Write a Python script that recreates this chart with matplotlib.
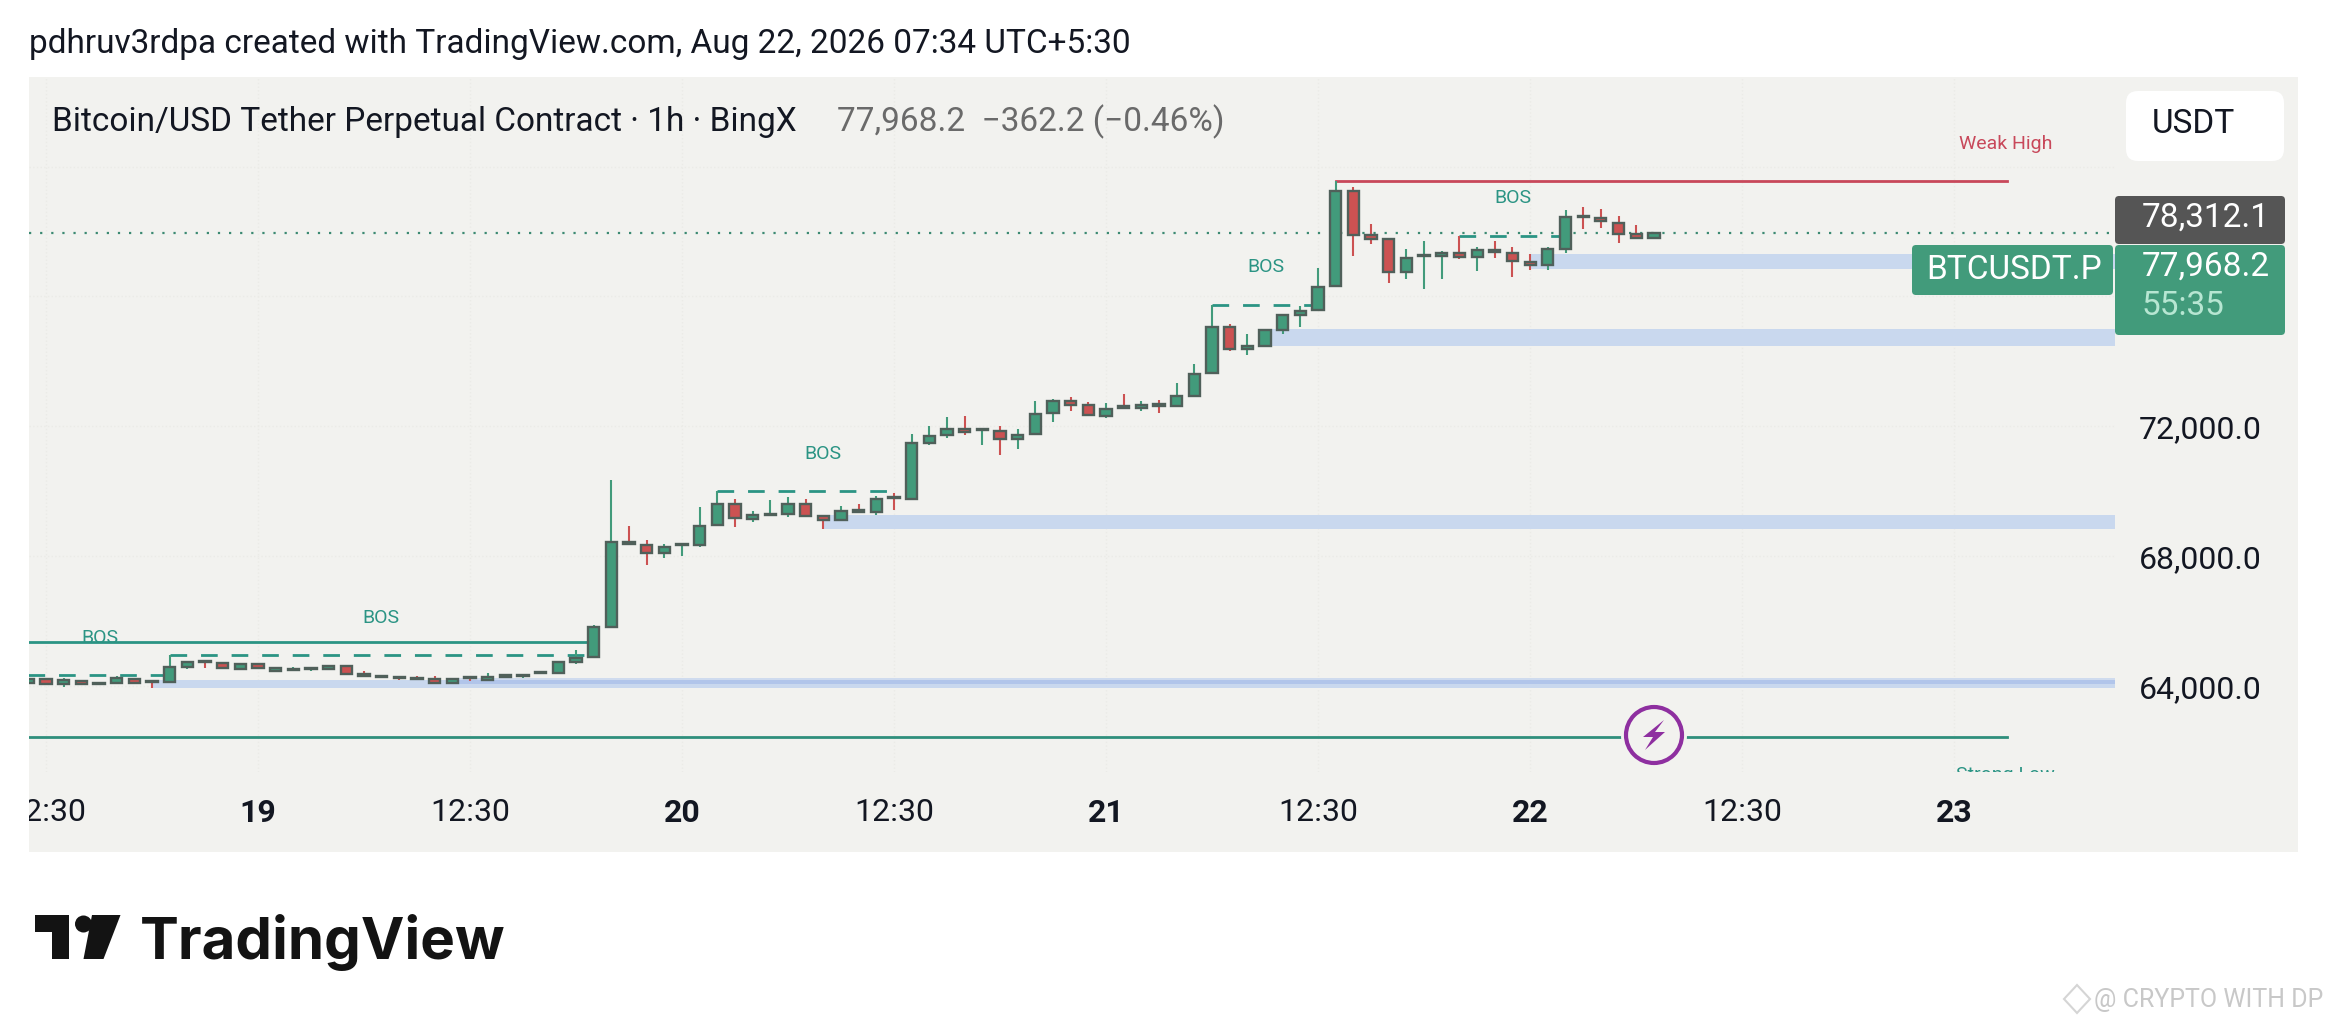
#! /bin/python3

import matplotlib
matplotlib.use('Agg')
import matplotlib.pyplot as plt
from matplotlib.patches import Rectangle, FancyBboxPatch, Circle, Polygon
from matplotlib.transforms import Affine2D, Bbox, TransformedBbox

plt.rcParams['font.family'] = ['Roboto', 'DejaVu Sans']

WIDTH, HEIGHT = 2326, 1025

# candle index 0 is the "19" tick, one candle per hour
first_index = -13
opens = [64118, 64220, 64087, 64179, 64087, 64097, 64241, 64159, 64128, 64610,
         64774, 64733, 64548, 64692, 64466, 64497, 64528, 64528, 64620, 64384,
         64333, 64292, 64261, 64231, 64118, 64282, 64190, 64302, 64333, 64405,
         64405, 64764, 64897,
         65820, 68456, 68364, 68097, 68343, 68343, 68959, 69626, 69164, 69267,
         69318, 69626, 69236, 69113, 69420, 69359, 69820, 69759, 71503, 71728,
         71933, 71882, 71872,
         71606, 71760, 72406, 72775, 72652, 72334, 72621, 72580, 72683, 72621,
         72949, 73636, 75072, 74374, 74467, 74959, 75421, 75574, 76313, 79257,
         77882, 77780, 76744, 77236, 77236, 77349, 77205, 77441, 77349, 77072,
         76959, 77462, 78487, 78426, 78272, 77913, 77800]
closes = [64220, 64087, 64200, 64066, 64118, 64251, 64118, 64128, 64610, 64743,
          64743, 64559, 64692, 64559, 64559, 64528, 64559, 64620, 64374, 64313,
          64302, 64251, 64220, 64118, 64241, 64251, 64292, 64343, 64364, 64436,
          64764, 64887, 65820,
          68456, 68374, 68097, 68302, 68374, 68949, 69626, 69174, 69267, 69318,
          69626, 69236, 69113, 69410, 69359, 69779, 69790, 71503, 71718, 71933,
          71841, 71913, 71605,
          71749, 72396, 72775, 72672, 72344, 72549, 72580, 72652, 72642, 72949,
          73626, 75072, 74374, 74467, 74959, 75421, 75564, 76303, 79257, 77882,
          77780, 76744, 77195, 77267, 77349, 77205, 77441, 77359, 77082, 76959,
          77451, 78457, 78457, 78313, 77913, 77800, 77968.2]
highs = [64220, 64251, 64261, 64190, 64120, 64313, 64271, 64159, 64969, 64774,
         64805, 64733, 64713, 64713, 64559, 64600, 64569, 64672, 64661, 64477,
         64333, 64323, 64323, 64323, 64251, 64292, 64415, 64384, 64374, 64436,
         64764, 65123, 65882,
         70344, 68938, 68507, 68384, 68405, 69533, 70026, 69759, 69400, 69738,
         69820, 69759, 69256, 69554, 69615, 69851, 69943, 71769, 72015, 72282,
         72323, 71933, 72015,
         71913, 72796, 72847, 72919, 72744, 72724, 73001, 72785, 72816, 73329,
         73913, 75739, 75144, 74846, 74990, 75441, 75708, 76877, 79564, 79359,
         78221, 77810, 77462, 77708, 77410, 77862, 77513, 77708, 77513, 77298,
         77513, 78662, 78754, 78693, 78477, 78200, 77975]
lows = [64118, 64077, 63984, 64056, 64036, 64087, 64107, 63954, 64118, 64548,
        64579, 64559, 64538, 64548, 64466, 64487, 64487, 64518, 64364, 64302,
        64302, 64210, 64200, 64107, 64087, 64179, 64179, 64261, 64251, 64405,
        64395, 64702, 64887,
        65820, 68364, 67738, 67964, 68015, 68302, 68938, 68918, 69061, 69256,
        69225, 69225, 68856, 69102, 69349, 69277, 69431, 69738, 71431, 71656,
        71738, 71431, 71133,
        71298, 71749, 72139, 72477, 72334, 72272, 72549, 72477, 72416, 72611,
        72938, 73626, 74333, 74210, 74456, 74846, 75072, 75564, 76282, 77246,
        77616, 76405, 76549, 76241, 76539, 77164, 76795, 77195, 76600, 76815,
        76815, 77349, 78077, 78108, 77657, 77790, 77790]

# (start index, top price, bottom price)
zones = [(72, 77308, 76837), (57, 75000, 74486), (32, 69277, 68846),
         (-6, 64200, 63954), (11, 64261, 64077)]
# (start index, end index, price, line style)
bos_lines = [(-13, 19, 65378, '-'), (-13, -5, 64354, '--'), (-5, 19, 64969, '--'),
             (26, 36, 70025, '--'), (54, 60, 75739, '--'), (68, 74, 77862, '--')]
bos_labels = [(-8.97, 65495), (6.96, 66108), (32, 71154), (57.05, 76908), (71.04, 79031)]
weak_high = 79564
strong_low = 62455
last_price = 77968.2

x_ticks = [-12, 0, 12, 24, 36, 48, 60, 72, 84, 96]
x_labels = ['12:30', '19', '12:30', '20', '12:30', '21', '12:30', '22', '12:30', '23']
y_ticks = [64000, 68000, 72000, 76000, 80000]
y_labels = ['64,000.0', '68,000.0', '72,000.0', '', '']

GREEN = '#429b7b'
RED = '#cc5252'
EDGE = '#50605a'
TEAL = '#2b9484'
PANEL = '#f2f2ef'
ZONE = '#c9d8ee'

fig = plt.figure(figsize=(WIDTH / 100, HEIGHT / 100), dpi=100, facecolor='white')
# pixel coordinates of the reference, y going down
px = Affine2D().scale(1 / WIDTH, -1 / HEIGHT).translate(0, 1) + fig.transFigure

fig.add_artist(Rectangle((28.5, 77), 2269.5, 775, transform=px, fc=PANEL, ec='none', zorder=-1))

ax = fig.add_axes([28.5 / WIDTH, 1 - 771.7 / HEIGHT, (2115 - 28.5) / WIDTH, (771.7 - 77) / HEIGHT])
ax.patch.set_visible(False)
for spine in ax.spines.values():
    spine.set_visible(False)
ax.set_xlim(-12.99, 105.1)
ax.set_ylim(61378, 82754)

ax.set_xticks(x_ticks, x_labels)
ax.yaxis.tick_right()
ax.set_yticks(y_ticks, y_labels)
ax.tick_params(axis='y', length=0, pad=17, labelsize=23, labelcolor='#131722')
ax.tick_params(axis='x', length=0, pad=19, labelsize=23, labelcolor='#131722')
ax.grid(True, color='#ebebe7', linewidth=1, linestyle=':', zorder=0)
ax.set_axisbelow(True)

clip = TransformedBbox(Bbox([[28.5 / WIDTH, 0], [1, 1]]), fig.transFigure)
for label, tick in zip(ax.get_xticklabels(), x_labels):
    label.set_clip_box(clip)
    label.set_clip_on(True)
    if ':' not in tick:
        label.set_fontweight('bold')

for start, top, bottom in zones:
    ax.add_patch(Rectangle((start, bottom), 105.1 - start, top - bottom, fc=ZONE, ec='none',
                           alpha=0.85 if start == 11 else 1, zorder=1))
# the two lower zones overlap in a darker band
ax.add_patch(Rectangle((11, 64077), 94.1, 123, fc='#b1c5ea', ec='none', zorder=1.1))

ax.axhline(last_price, color='#3c8a72', linewidth=1.6, linestyle=(0, (1, 4)), zorder=2)

for start, end, price, style in bos_lines:
    ax.plot([start, end], [price, price], color=TEAL, linewidth=2,
            linestyle=(0, (6, 5)) if style == '--' else '-', zorder=2)
for x, y in bos_labels:
    ax.text(x, y, 'BOS', color=TEAL, fontsize=14, ha='center', va='center')

ax.plot([61, 99], [weak_high, weak_high], color='#c8485a', linewidth=2, zorder=2)
ax.plot([-13, 99], [strong_low, strong_low], color='#2f8f7c', linewidth=2, zorder=2)
ax.text(98.9, 80693, 'Weak High', color='#c8485a', fontsize=14, ha='center', va='center')
ax.text(98.9, 61277, 'Strong Low', color=TEAL, fontsize=14, ha='center', va='center', clip_on=True)

for n, (o, h, l, c) in enumerate(zip(opens, highs, lows, closes)):
    i = first_index + n
    col = GREEN if c >= o else RED
    ax.plot([i, i], [l, h], color=col, linewidth=1.5, solid_capstyle='butt', zorder=3)
    ax.bar(i, abs(c - o), bottom=min(o, c), width=0.64, color=col, edgecolor=EDGE, linewidth=1.7, zorder=4)

# header and legend line
fig.text(29, 44, 'pdhruv3rdpa created with TradingView.com, Aug 22, 2026 07:34 UTC+5:30',
         transform=px, fontsize=24, color='#131722', va='center')
fig.text(52, 122, 'Bitcoin/USD Tether Perpetual Contract · 1h · BingX',
         transform=px, fontsize=24, color='#131722', va='center')
fig.text(837, 122, '77,968.2  −362.2 (−0.46%)', transform=px, fontsize=24, color='#6a6a6a', va='center')

# price scale labels
fig.add_artist(FancyBboxPatch((2129, 94), 152, 64, boxstyle='round,pad=3,rounding_size=12',
                              transform=px, fc='white', ec='none', zorder=5))
fig.text(2152, 124, 'USDT', transform=px, fontsize=24, color='#131722', va='center', zorder=6)
fig.add_artist(FancyBboxPatch((2117, 198), 166, 44, boxstyle='round,pad=2,rounding_size=4',
                              transform=px, fc='#555555', ec='none', zorder=5))
fig.add_artist(FancyBboxPatch((2117, 247), 166, 86, boxstyle='round,pad=2,rounding_size=4',
                              transform=px, fc=GREEN, ec='none', zorder=5))
fig.text(2142, 218, '78,312.1', transform=px, fontsize=24, color='white', va='center', zorder=6)
fig.text(2142, 267, '77,968.2', transform=px, fontsize=24, color='white', va='center', zorder=6)
fig.text(2142, 306, '55:35', transform=px, fontsize=24, color='#b7e6d2', va='center', zorder=6)
fig.add_artist(FancyBboxPatch((1914, 247), 197, 46, boxstyle='round,pad=2,rounding_size=4',
                              transform=px, fc=GREEN, ec='none', zorder=5))
fig.text(1926, 270, 'BTCUSDT.P', transform=px, fontsize=24, color='white', va='center', zorder=6)

# lightning icon on the strong low line
fig.add_artist(Circle((1654, 735), 33, transform=px, fc=PANEL, ec='none', zorder=5))
fig.add_artist(Circle((1654, 735), 28, transform=px, fc=PANEL, ec='#8e2fa0', linewidth=3, zorder=6))
bolt = [(1664, 720), (1643, 737), (1653, 737), (1645, 750), (1665, 732), (1655, 732)]
fig.add_artist(Polygon(bolt, closed=True, transform=px, fc='#8e2fa0', ec='none', zorder=7))

# TradingView logo
fig.add_artist(Polygon([(35, 915), (69, 915), (69, 959), (52, 959), (52, 932), (35, 932)],
                       closed=True, transform=px, fc='#131313', ec='none'))
fig.add_artist(Circle((83.5, 924), 8.5, transform=px, fc='#131313', ec='none'))
fig.add_artist(Polygon([(92, 915), (120.5, 915), (103.5, 959), (83.5, 959)],
                       closed=True, transform=px, fc='#131313', ec='none'))
fig.text(140, 959, 'TradingView', transform=px, fontsize=42, fontweight='bold', color='#131313',
         family='Inter', va='baseline')

# watermark
fig.add_artist(Polygon([(2077, 985), (2090, 999), (2077, 1013), (2064, 999)], closed=True,
                       transform=px, fc='none', ec='#d5d5d5', linewidth=1.5))
fig.text(2094, 1000, '@ CRYPTO WITH DP', transform=px, fontsize=18, color='#c8c8c8', va='center')

fig.savefig('out.png', dpi=100)
